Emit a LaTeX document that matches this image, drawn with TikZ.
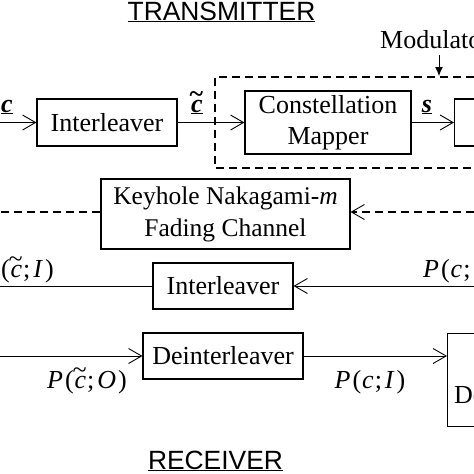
\documentclass[tikz,border=0pt]{standalone}
\usepackage{fontspec}
\setmainfont{Liberation Serif}
\newfontfamily\headfont{Liberation Sans}
\usetikzlibrary{arrows.meta}
\newcommand\tilc{\textit{c}\llap{\raisebox{0.36em}{\makebox[0.5em][c]{\upshape\char"7E}}}}
\newcommand\plab[2]{\textit{P}\kern2pt(\kern1pt#1\kern1pt;\kern3pt\textit{#2}\kern2pt)}
\begin{document}
\begin{tikzpicture}[x=1pt,y=-1pt,
  blk/.style={draw,line width=1.1pt,rectangle,inner sep=0pt,align=center,
    font=\fontsize{26}{31}\selectfont},
  conn/.style={line width=0.9pt,-{Straight Barb[length=13pt,width=15pt,line width=0.9pt]}},
  plain/.style={line width=0.9pt},
  dsh/.style={line width=1.1pt,dash pattern=on 8pt off 5pt},
  lbl/.style={font=\fontsize{26}{30}\selectfont,inner sep=0pt},
  head/.style={font=\headfont\fontsize{26.4}{30}\selectfont,inner sep=0pt}]
\useasboundingbox (0,0) rectangle (474,474);
\clip (0,0) rectangle (474,474);
% headings
\node[head,anchor=base] (tx) at (221.5,20) {\underline{TRANSMITTER}};
\node[head,anchor=base] (rx) at (215.5,469) {\underline{RECEIVER}};
% transmitter row
\node[blk,minimum width=140pt,minimum height=47pt] (int1) at (107,122.5) {Interleaver};
\node[blk,minimum width=166pt,minimum height=63pt] (map) at (328,122.5) {Constellation\\Mapper};
\node[blk,minimum width=80pt,minimum height=47pt,anchor=west] (txb) at (454,122.5) {};
\coordinate (cin) at (0,122.5);
\draw[conn] (cin) -- (int1.west);
\draw[conn] (int1.east) -- (map.west);
\draw[conn] (map.east) -- (txb.west);
\node[lbl,anchor=base] (lc) at (7,112) {\underline{\textbf{\textit{c}}}};
\node[lbl,anchor=base] (lct) at (197,112) {\underline{\textbf{\tilc}}};
\node[lbl,anchor=base] (ls) at (427,112) {\underline{\textbf{\textit{s}}}};
% modulator
\draw[dsh] (500,77) -- (215,77) -- (215,168) -- (500,168);
\node[lbl,anchor=base west] (mod) at (380,48) {Modulator};
\coordinate (modtip) at (439,76);
\draw[line width=1pt,-{Latex[length=9pt,width=8pt]}] (439,55) -- (modtip);
% channel
\node[blk,minimum width=249pt,minimum height=70pt,font=\fontsize{25.5}{32}\selectfont] (ch) at (225.5,214) {Keyhole Nakagami-\textit{m}\\Fading Channel};
\coordinate (chin) at (474,212);
\coordinate (chout) at (0,212);
\draw[dsh,-{Straight Barb[length=13pt,width=15pt,line width=0.9pt]}] (chin) -- (ch.east |- chin);
\draw[dsh] (ch.west |- chout) -- (chout);
% receiver interleaver
\node[blk,minimum width=140pt,minimum height=46pt] (int2) at (223,286) {Interleaver};
\coordinate (i2in) at (474,286);
\coordinate (i2out) at (0,286);
\draw[conn] (i2in) -- (int2.east);
\draw[plain] (int2.west) -- (i2out);
\node[lbl,anchor=base east] (l1) at (54,277) {\plab{\tilc}{I}};
\node[lbl,anchor=base west] (l2) at (423,277) {\plab{\textit{c}}{O}};
% deinterleaver
\node[blk,minimum width=160pt,minimum height=46pt] (dei) at (223,356) {Deinterleaver};
\node[blk,minimum width=80pt,minimum height=93pt,anchor=north west] (rxb) at (447,333) {};
\node[lbl,anchor=base west] (dec) at (454,403) {Decoder};
\coordinate (din) at (0,356);
\draw[conn] (din) -- (dei.west);
\draw[conn] (dei.east) -- (dei.east -| rxb.west);
\node[lbl,anchor=base] (l3) at (87,388) {\plab{\tilc}{O}};
\node[lbl,anchor=base] (l4) at (370,388) {\plab{\textit{c}}{I}};
\end{tikzpicture}
\end{document}
